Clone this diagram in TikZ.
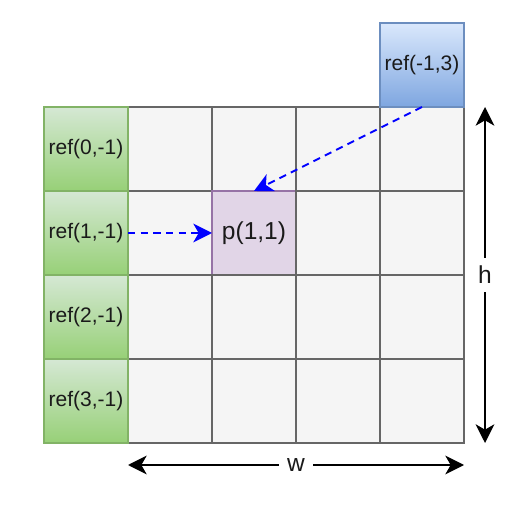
\documentclass[tikz,border=0pt]{standalone}
\usepackage{fontspec}
\setmainfont{Liberation Sans}
\usetikzlibrary{arrows.meta}
\definecolor{gridfill}{HTML}{F5F5F5}
\definecolor{gridline}{HTML}{666666}
\definecolor{greentop}{HTML}{D5E8D4}
\definecolor{greenbot}{HTML}{97D077}
\definecolor{greenline}{HTML}{82B366}
\definecolor{bluetop}{HTML}{DAE8FC}
\definecolor{bluebot}{HTML}{7EA6E0}
\definecolor{blueline}{HTML}{6C8EBF}
\definecolor{purplefill}{HTML}{E1D5E7}
\definecolor{purpleline}{HTML}{9673A6}
\definecolor{arrowblue}{HTML}{0000FF}
\definecolor{textcol}{HTML}{1A1A1A}
\tikzset{
  box/.style={rectangle, minimum width=63pt, minimum height=63pt, inner sep=0pt, outer sep=0pt, line width=1.4pt, text=textcol},
  gcell/.style={box, draw=gridline, fill=gridfill},
  refcell/.style={box, draw=greenline, top color=greentop, bottom color=greenbot, font=\fontsize{15.75}{18}\selectfont},
  bluecell/.style={box, draw=blueline, top color=bluetop, bottom color=bluebot, font=\fontsize{15.75}{18}\selectfont},
  pcell/.style={box, draw=purpleline, fill=purplefill, font=\fontsize{18.4}{21}\selectfont},
  tipstyle/.style={},
  dasharrow/.style={draw=arrowblue, line width=1.5pt, dash pattern=on 5.5pt off 4pt, -{Stealth[length=14pt, width=14pt, inset=4pt]}},
  dimarrow/.style={draw=black, line width=1.4pt, {Stealth[length=14pt, width=14pt, inset=4pt]}-{Stealth[length=14pt, width=14pt, inset=4pt]}},
  dimlabel/.style={fill=white, inner sep=6pt, text=textcol, font=\fontsize{18.4}{21}\selectfont}
}
\begin{document}
\begin{tikzpicture}[x=0.75pt, y=-0.75pt]
\useasboundingbox (0,0) rectangle (532,516);
% grid cells (row-major)
\node[gcell] (c00) at (170,149) {};
\node[gcell] (c01) at (254,149) {};
\node[gcell] (c02) at (338,149) {};
\node[gcell] (c03) at (422,149) {};
\node[gcell] (c10) at (170,233) {};
\node[pcell] (p) at (254,233) {p(1,1)};
\node[gcell] (c12) at (338,233) {};
\node[gcell] (c13) at (422,233) {};
\node[gcell] (c20) at (170,317) {};
\node[gcell] (c21) at (254,317) {};
\node[gcell] (c22) at (338,317) {};
\node[gcell] (c23) at (422,317) {};
\node[gcell] (c30) at (170,401) {};
\node[gcell] (c31) at (254,401) {};
\node[gcell] (c32) at (338,401) {};
\node[gcell] (c33) at (422,401) {};
% reference column
\node[refcell] (r0) at (86,149) {ref(0,-1)};
\node[refcell] (r1) at (86,233) {ref(1,-1)};
\node[refcell] (r2) at (86,317) {ref(2,-1)};
\node[refcell] (r3) at (86,401) {ref(3,-1)};
% reference above
\node[bluecell] (top) at (422,65) {ref(-1,3)};
% arrows
\draw[dasharrow] (r1.east) -- (p.west);
\draw[dasharrow] (top.south) -- (p.north);
% dimensions
\coordinate (htop) at (485,107);
\coordinate (hbot) at (485,443);
\coordinate (wl) at (128,465);
\coordinate (wr) at (464,465);
\draw[dimarrow] (htop) -- node[dimlabel] (hl) {h} (hbot);
\draw[dimarrow] (wl) -- node[dimlabel] (wlab) {w} (wr);
\end{tikzpicture}
\end{document}
